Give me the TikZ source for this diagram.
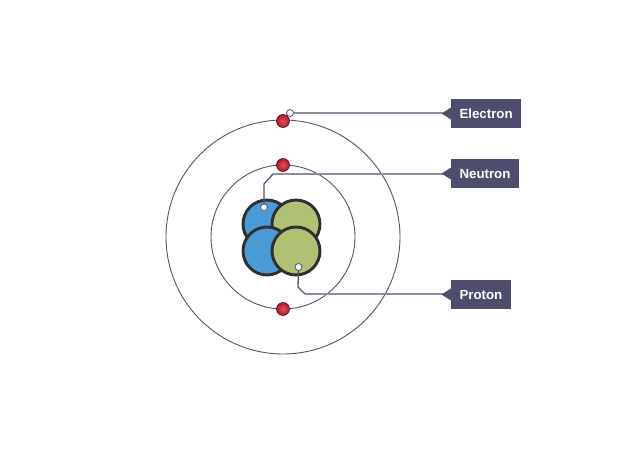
\documentclass[tikz,border=0pt]{standalone}
\usepackage{fontspec}
\usepackage{tikz}
\newfontfamily\tagfont{Liberation Sans}
\definecolor{orbitcol}{HTML}{54536E}
\definecolor{leadcol}{HTML}{8E8CA3}
\definecolor{tagcol}{HTML}{4F4D6E}
\definecolor{protcol}{HTML}{4A9BD5}
\definecolor{neutcol}{HTML}{B1C173}
\definecolor{rimcol}{HTML}{2F2F2F}
\definecolor{elcol}{HTML}{D01C2C}

\tikzset{
  nuc/.style={circle, draw=rimcol, line width=2.9pt, minimum size=48pt, inner sep=0pt},
  elec/.style={circle, shading=radial, inner color=elcol!75!white, outer color=elcol!85!black,
    draw=elcol!45!black, line width=0.6pt, minimum size=13pt, inner sep=0pt},
  dot/.style={circle, fill=white, draw=orbitcol, line width=0.8pt, minimum size=7pt, inner sep=0pt},
  lead/.style={draw=leadcol, line width=1.3pt},
  tag/.style={fill=tagcol, text=white, font=\tagfont\bfseries\fontsize{13.3}{15}\selectfont,
    minimum height=29pt, inner xsep=8.3pt, anchor=west}
}

\begin{document}
\begin{tikzpicture}[x=1pt, y=-1pt]
      \useasboundingbox (0,0) rectangle (624,450);

      % orbits
      \draw[orbitcol, line width=0.9pt] (283,237) circle (117);
      \draw[orbitcol, line width=0.9pt] (283,237) circle (72);

      % nucleus
      \node[nuc, fill=protcol] (p1) at (267,224) {};
      \node[nuc, fill=neutcol] (n1) at (296,224) {};
      \node[nuc, fill=protcol] (p2) at (267,251) {};
      \node[nuc, fill=neutcol] (n2) at (296,251) {};

      % electrons
      \node[elec] (e1) at (283,121) {};
      \node[elec] (e2) at (283,165) {};
      \node[elec] (e3) at (283,309) {};

      % labels
      \node[tag] (el) at (451,113.5) {Electron};
      \node[tag] (nl) at (451,173.5) {Neutron};
      \node[tag] (pl) at (451,294.5) {Proton};

      % leader bends
      \coordinate (nb1) at (264,184);
      \coordinate (nb2) at (273,174);
      \coordinate (pb1) at (298,287);
      \coordinate (pb2) at (305,294);

      \node[dot] (ed) at (290,113) {};
      \node[dot] (nd) at (264,207.5) {};
      \node[dot] (pd) at (298.5,267) {};

      \draw[lead] (ed) -- (ed -| el.west);
      \draw[lead, draw=orbitcol] (nd) -- (nb1) -- (nb2);
      \draw[lead] (nb2) -- (nb2 -| nl.west);
      \draw[lead, draw=orbitcol] (pd) -- (pb1) -- (pb2);
      \draw[lead] (pb2) -- (pb2 -| pl.west);

      \fill[tagcol] (el.west) ++(0,-6) -- ++(-9.5,6) -- ++(9.5,6) -- cycle;
      \fill[tagcol] (nl.west) ++(0,-6) -- ++(-9.5,6) -- ++(9.5,6) -- cycle;
      \fill[tagcol] (pl.west) ++(0,-6) -- ++(-9.5,6) -- ++(9.5,6) -- cycle;
    \end{tikzpicture}
\end{document}
